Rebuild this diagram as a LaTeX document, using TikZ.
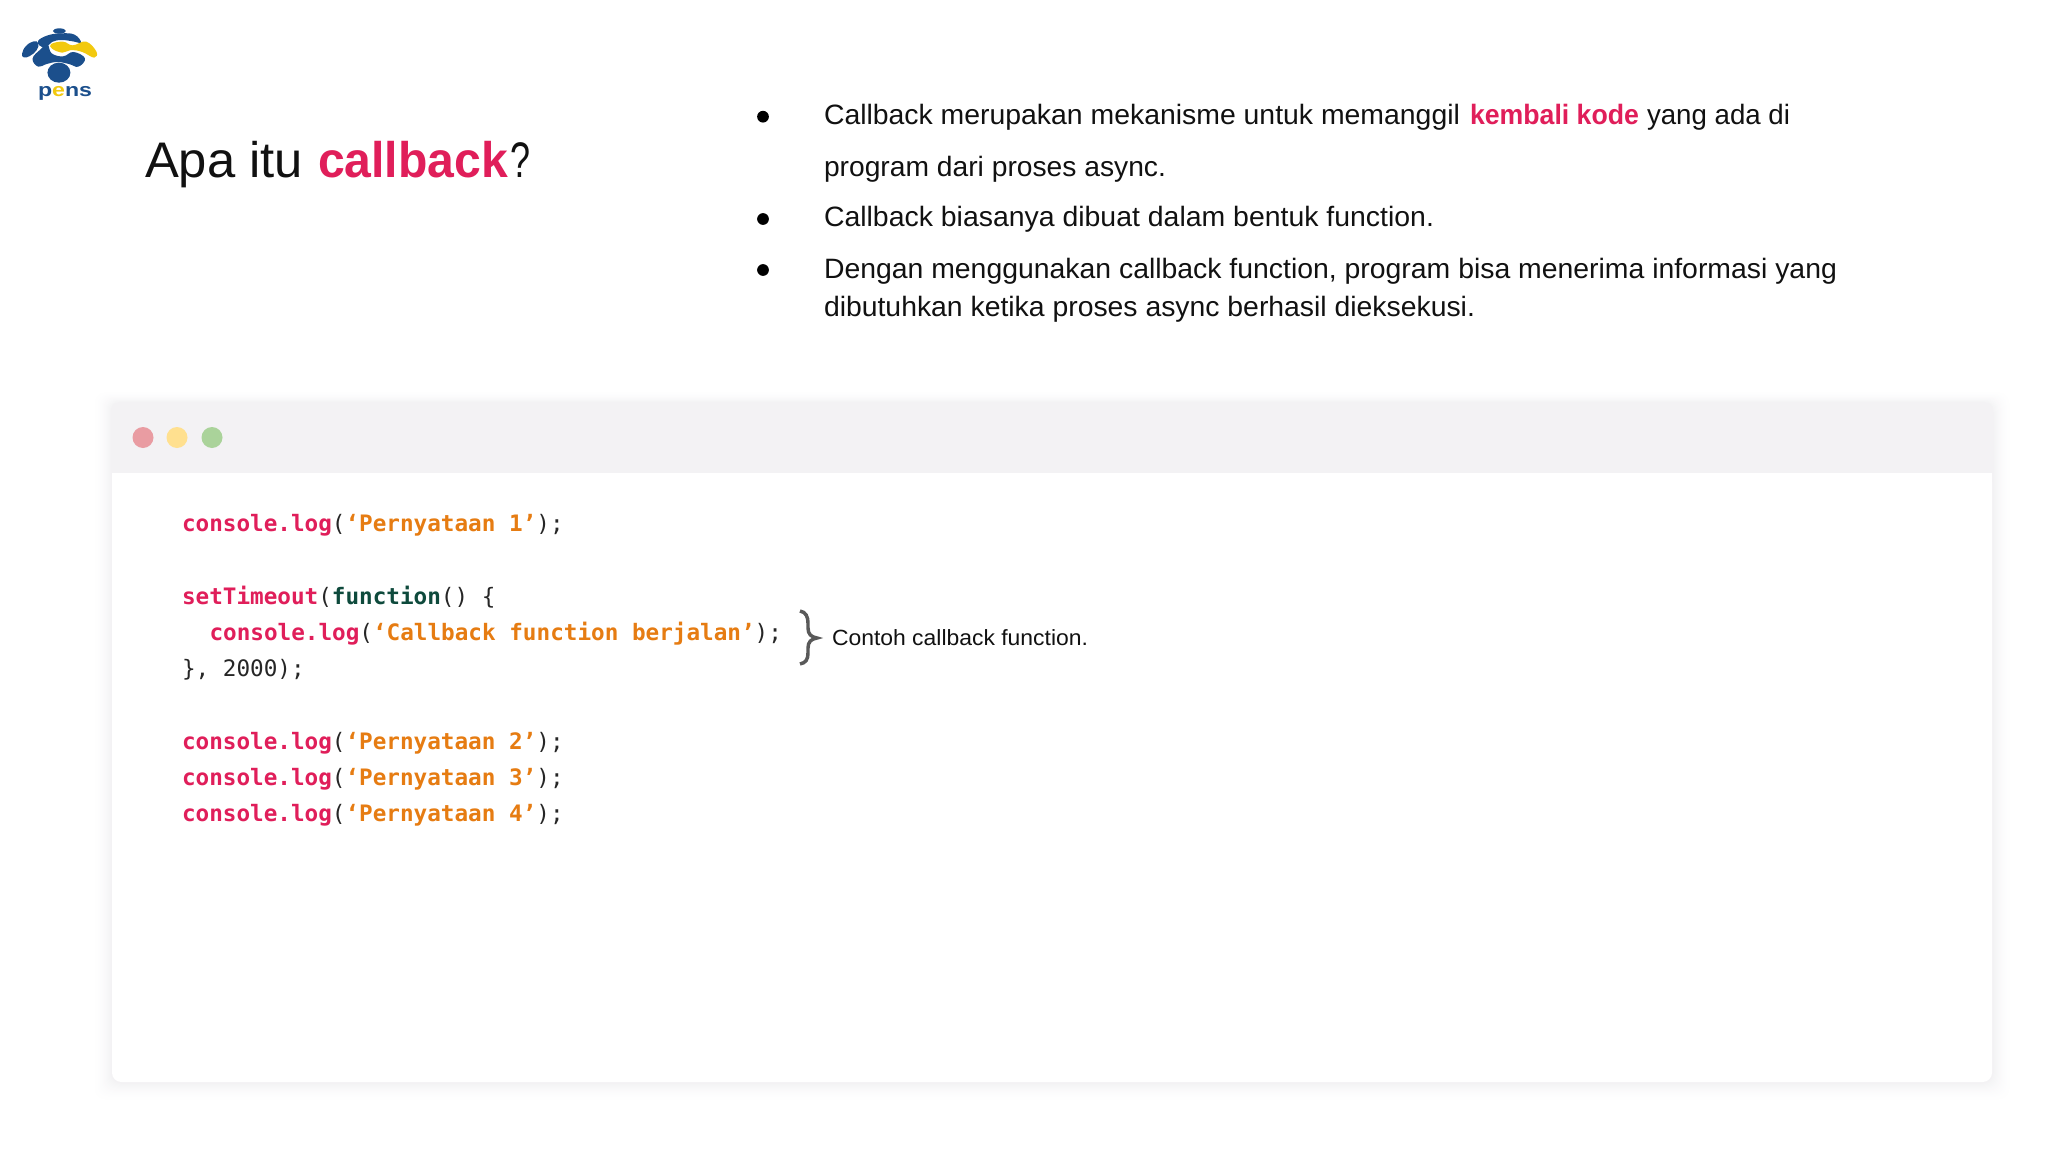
\documentclass[tikz,border=0pt]{standalone}
\usepackage{fontspec}
\usepackage{graphicx}
\setmainfont{Liberation Sans}
\setmonofont{DejaVu Sans Mono}
\definecolor{pinkc}{HTML}{E01E5A}
\definecolor{orangec}{HTML}{E67C12}
\definecolor{greenc}{HTML}{0E4A3C}
\definecolor{inkc}{HTML}{111111}
\definecolor{headc}{HTML}{F3F2F4}
\definecolor{logob}{HTML}{1B4F8C}
\definecolor{logoy}{HTML}{F2C90F}
\definecolor{btnrc}{HTML}{E99CA2}
\definecolor{btnyc}{HTML}{FFE08F}
\definecolor{btngc}{HTML}{AAD39A}
\newcommand\fitw[2]{\resizebox{\dimexpr #1pt*3/4\relax}{\height}{#2}}
\newcommand\pk[1]{{\bfseries\color{pinkc}#1}}
\newcommand\og[1]{{\bfseries\color{orangec}#1}}
\newcommand\gn[1]{{\bfseries\color{greenc}#1}}
\tikzset{
  txt/.style={anchor=base west,inner sep=0pt,outer sep=0pt,text=inkc},
  body/.style={txt,font=\fontsize{21pt}{25pt}\selectfont},
  heading/.style={txt,font=\fontsize{37.5pt}{44pt}\selectfont},
  code/.style={txt,text=black!85,font=\ttfamily\fontsize{16.98pt}{20pt}\selectfont},
  bulletdot/.style={circle,fill=black,inner sep=0pt,minimum size=8.8pt},
  winbtn/.style={circle,inner sep=0pt,minimum size=15.75pt},
}
\begin{document}
\begin{tikzpicture}[x=0.75pt,y=-0.75pt]
\useasboundingbox (0,0) rectangle (2048,1152);
\fill[white] (0,0) rectangle (2048,1152);
% logo
\begin{scope}[x=0.287pt,y=-0.25pt]
\fill[logob] (155,93) ellipse [x radius=17,y radius=8];
\fill[logob] plot[smooth cycle,tension=.8] coordinates {(58,160) (68,138) (88,124) (100,130) (96,150) (78,168) (62,172)};
\fill[logob] plot[smooth cycle,tension=.7] coordinates {(100,122) (125,106) (160,100) (195,104) (212,128) (190,124) (160,120) (136,126) (120,142) (104,137)};
\fill[logoy] plot[smooth cycle,tension=.7] coordinates {(134,132) (165,125) (190,136) (225,125) (252,155) (246,173) (215,156) (185,150) (163,158) (136,146)};
\fill[logob] plot[smooth cycle,tension=.7] coordinates {(85,176) (106,148) (124,133) (135,160) (165,169) (192,156) (222,175) (205,200) (180,192) (150,186) (122,192) (100,200)};
\fill[logob] (154,218) circle (30);
\end{scope}
\node[txt,text=logob,font=\bfseries\fontsize{14pt}{16pt}\selectfont] (pens) at (38,97) {\fitw{54}{p{\color{logoy}e}ns}};
% title
\node[heading] (title1) at (145,178) {\fitw{158}{Apa itu}};
\node[heading] (title2) at (318,178) {\fitw{190}{\pk{callback}}};
\node[heading] (title3) at (510,178) {\fitw{20}{?}};
% bullets
\node[bulletdot] (b1) at (763,116.7) {};
\node[bulletdot] (b2) at (763,219) {};
\node[bulletdot] (b3) at (763,270) {};
\node[body] (l1a) at (824,125) {\fitw{636}{Callback merupakan mekanisme untuk memanggil}};
\node[body] (l1b) at (1470,125) {\fitw{169}{\pk{kembali kode}}};
\node[body] (l1c) at (1647,125) {\fitw{143}{yang ada di}};
\node[body] (l2) at (824,176.7) {\fitw{342}{program dari proses async.}};
\node[body] (l3) at (824,226.7) {\fitw{610}{Callback biasanya dibuat dalam bentuk function.}};
\node[body] (l4) at (824,278.3) {\fitw{1013}{Dengan menggunakan callback function, program bisa menerima informasi yang}};
\node[body] (l5) at (824,316) {\fitw{651}{dibutuhkan ketika proses async berhasil dieksekusi.}};
% window shadow
\foreach \i in {20,19,...,1} {
  \pgfmathsetmacro\p{100*((21-\i)/20)^2}
  \fill[headc!\p!white,rounded corners=8] (112-\i,403-0.6*\i) rectangle (1992+\i,1082+\i);
}
% window
\fill[headc,rounded corners=3] (112,403) rectangle (1992,480);
\fill[white,rounded corners=7] (112,473) rectangle (1992,1082);
\fill[white] (112,473) rectangle (1992,490);
\node[winbtn,fill=btnrc] (btnr) at (143,437.5) {};
\node[winbtn,fill=btnyc] (btny) at (177,437.5) {};
\node[winbtn,fill=btngc] (btng) at (212,437.5) {};
% code
\node[code] (c1) at (182,531.3) {\pk{console.log}(\og{‘Pernyataan 1’});};
\node[code] (c2) at (182,604) {\pk{setTimeout}(\gn{function}() \{};
\node[code] (c3) at (209.5,640.3) {\pk{console.log}(\og{‘Callback function berjalan’});};
\node[code] (c4) at (182,676.6) {\}, 2000);};
\node[code] (c5) at (182,749.2) {\pk{console.log}(\og{‘Pernyataan 2’});};
\node[code] (c6) at (182,785.5) {\pk{console.log}(\og{‘Pernyataan 3’});};
\node[code] (c7) at (182,821.8) {\pk{console.log}(\og{‘Pernyataan 4’});};
% brace
\draw[black!65,line width=2.6pt] (800,611) .. controls (806,612) and (808,617) .. (808,623) -- (808,628) .. controls (808,634) and (811,637) .. (817,638) .. controls (811,639) and (808,642) .. (808,648) -- (808,653) .. controls (808,659) and (806,663) .. (800,664);
\node[txt,font=\fontsize{16.5pt}{20pt}\selectfont] (note) at (832,645) {\fitw{256}{Contoh callback function.}};
\end{tikzpicture}
\end{document}
